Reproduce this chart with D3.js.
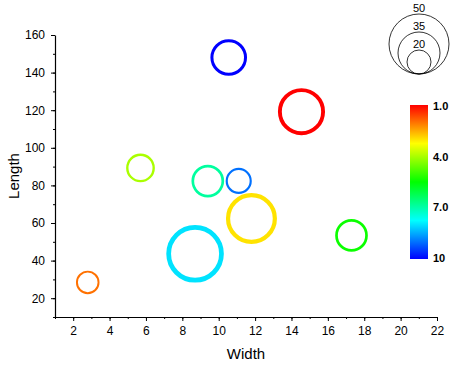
<!DOCTYPE html>
<html lang="en">
<head>
<meta charset="UTF-8">
<title>Bubble chart</title>
<script src="https://d3js.org/d3.v7.min.js"></script>
<style>
  body { margin: 0; background: #fff; }
  text { font-family: "Liberation Sans", Arial, sans-serif; }
</style>
</head>
<body>
<div id="chart"></div>
<script>
// data
var widthVals  = [2.8, 5.7, 8.7, 9.4, 10.55, 11.1, 11.8, 14.55, 17.3];
var lengthVals = [28.4, 89.3, 43.6, 82.3, 148, 82.4, 62.4, 119.2, 53.4];
var sizeVals   = [18, 22, 44, 25, 28, 20, 39, 36, 25];
var colorVals  = [2.0, 4.0, 8.0, 6.9, 10, 9.0, 3.0, 1.0, 5.4];

var xTicks = [2, 4, 6, 8, 10, 12, 14, 16, 18, 20, 22];
var yTicks = [20, 40, 60, 80, 100, 120, 140, 160];
var colorTicks = [1, 4, 7, 10];
var colorTickLabels = ["1.0", "4.0", "7.0", "10"];
var sizeLegend = [50, 35, 20];

var W = 463, H = 371;
var svg = d3.select("#chart").append("svg")
  .attr("width", W).attr("height", H);

var x = d3.scaleLinear().domain([1, 22]).range([55, 437]);
var y = d3.scaleLinear().domain([10, 160]).range([317, 35]);
var r = d3.scaleLinear().domain([0, 50]).range([0, 30]);

var color = d3.scaleLinear()
  .domain([1, 3.25, 5.5, 7.75, 10])
  .range(["#ff0000", "#ffff00", "#00ff00", "#00ffff", "#0000ff"]);

// axes
var xAxis = svg.append("g").attr("transform", "translate(0,317)");
xAxis.call(d3.axisBottom(x).tickValues(d3.range(1, 23, 1)).tickSize(2).tickFormat(""));
xAxis.call(g => g.selectAll(".domain").remove());
var xMajor = svg.append("g").attr("transform", "translate(0,317)")
  .call(d3.axisBottom(x).tickValues(xTicks).tickSize(4).tickPadding(5).tickSizeOuter(0));
xMajor.selectAll("text").attr("font-size", 12).attr("fill", "#000");

var yMinor = svg.append("g").attr("transform", "translate(55,0)");
yMinor.call(d3.axisLeft(y).tickValues(d3.range(10, 161, 10)).tickSize(2).tickFormat(""));
yMinor.call(g => g.selectAll(".domain").remove());
var yMajor = svg.append("g").attr("transform", "translate(55,0)")
  .call(d3.axisLeft(y).tickValues(yTicks).tickSize(4).tickPadding(6).tickSizeOuter(0));
yMajor.selectAll("text").attr("font-size", 12).attr("fill", "#000");

svg.selectAll(".domain").attr("stroke", "#000").attr("stroke-width", 1.2);
svg.selectAll(".tick line").attr("stroke", "#000");

// axis titles
svg.append("text")
  .attr("x", 246).attr("y", 359)
  .attr("text-anchor", "middle").attr("font-size", 15)
  .text("Width");
svg.append("text")
  .attr("transform", "translate(19,176) rotate(-90)")
  .attr("text-anchor", "middle").attr("font-size", 15)
  .text("Length");

// bubbles
svg.append("g").selectAll("circle")
  .data(widthVals.map((d, i) => i))
  .join("circle")
  .attr("cx", i => x(widthVals[i]))
  .attr("cy", i => y(lengthVals[i]))
  .attr("r", i => r(sizeVals[i]))
  .attr("fill", "none")
  .attr("stroke", i => color(colorVals[i]))
  .attr("stroke-width", i => r(sizeVals[i]) * 0.18);

// color bar
var cb = d3.scaleLinear().domain([1, 10]).range([106, 258]);
var defs = svg.append("defs");
var grad = defs.append("linearGradient").attr("id", "cbar")
  .attr("x1", 0).attr("y1", 0).attr("x2", 0).attr("y2", 1);
color.domain().forEach(v => {
  grad.append("stop")
    .attr("offset", (v - 1) / 9)
    .attr("stop-color", color(v));
});
svg.append("rect")
  .attr("x", 410).attr("y", cb(1) - 1)
  .attr("width", 18).attr("height", cb(10) - cb(1) + 2)
  .attr("fill", "url(#cbar)");
svg.append("g").selectAll("text")
  .data(colorTicks)
  .join("text")
  .attr("x", 433)
  .attr("y", d => cb(d))
  .attr("dy", "0.35em")
  .attr("font-size", 11)
  .attr("font-weight", "bold")
  .text((d, i) => colorTickLabels[i]);

// size legend
var legBottom = 74, legCx = 419;
var leg = svg.append("g");
leg.selectAll("circle")
  .data(sizeLegend)
  .join("circle")
  .attr("cx", legCx)
  .attr("cy", d => legBottom - r(d))
  .attr("r", d => r(d))
  .attr("fill", "none")
  .attr("stroke", "#000")
  .attr("stroke-width", 0.8);
leg.selectAll("text")
  .data(sizeLegend)
  .join("text")
  .attr("x", legCx)
  .attr("y", d => legBottom - 2 * r(d) - 2)
  .attr("text-anchor", "middle")
  .attr("font-size", 11)
  .text(d => d);
</script>
</body>
</html>
